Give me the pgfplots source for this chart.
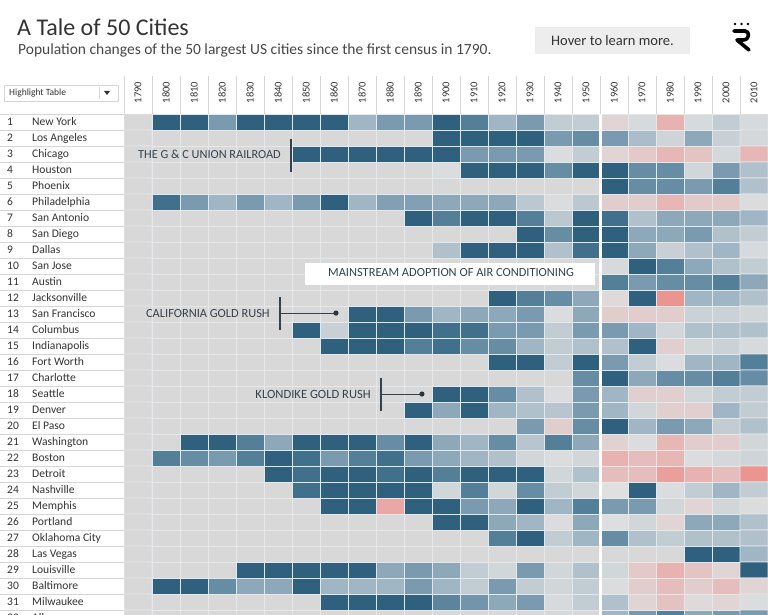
\documentclass[border=0pt]{standalone}
\usepackage{pgfplots}
\pgfplotsset{compat=1.18}
\usepackage{fontspec}
\setmainfont{Carlito}

\definecolor{txt}{RGB}{51,51,51}
\definecolor{note}{RGB}{52,66,78}
\definecolor{sep}{RGB}{214,214,214}
\definecolor{cellline}{RGB}{228,232,235}
\definecolor{nodata}{RGB}{216,216,216}

\begin{document}
\begin{tikzpicture}[x=1pt,y=1pt]
\useasboundingbox (0,0) rectangle (768,615);
\clip (0,0) rectangle (768,615);

% titles
\node[anchor=base west, inner sep=0, text=txt, font=\fontsize{24}{24}\selectfont] at (17,579) {A Tale of 50 Cities};
\node[anchor=base west, inner sep=0, text=txt!90, font=\fontsize{15.5}{15.5}\selectfont] at (18,560) {Population changes of the 50 largest US cities since the first census in 1790.};
\fill[black!7] (535,561) rectangle (690,588);
\node[text=txt, font=\fontsize{14.5}{14.5}\selectfont] at (612.5,574.5) {Hover to learn more.};
% logo
\fill[black] (735,591) circle (1.3) (741.5,591) circle (1.3) (748,591) circle (1.3);
\draw[black, line width=3.6pt, line cap=round, line join=round] (734,584) -- (745,584) .. controls (750,584) and (750,575) .. (743,575) -- (737,575) -- (749,565);

% dropdown
\draw[sep, fill=white] (4,514) rectangle (118,530);
\node[anchor=base west, inner sep=0, text=txt, font=\fontsize{9.5}{9.5}\selectfont] at (9,519) {Highlight Table};
\draw[sep] (99,516) -- (99,528);
\fill[txt] (104,524) -- (110,524) -- (107,520) -- cycle;

% header
\foreach \i in {0,...,22} {
  \pgfmathtruncatemacro\yr{1790+10*\i}
  \node[rotate=90, inner sep=0, text=txt, font=\fontsize{10.5}{10.5}\selectfont] at (138+28*\i,522.5) {\yr};
}
\foreach \i in {0,...,23} \draw[sep] (124+28*\i,539) -- (124+28*\i,501);
\draw[sep] (0,501) -- (124,501);

% row labels
\foreach \n/\c [count=\k from 0] in {1/New York,2/Los Angeles,3/Chicago,4/Houston,5/Phoenix,
  6/Philadelphia,7/San Antonio,8/San Diego,9/Dallas,10/San Jose,11/Austin,12/Jacksonville,
  13/San Francisco,14/Columbus,15/Indianapolis,16/Fort Worth,17/Charlotte,18/Seattle,19/Denver,
  20/El Paso,21/Washington,22/Boston,23/Detroit,24/Nashville,25/Memphis,26/Portland,
  27/Oklahoma City,28/Las Vegas,29/Louisville,30/Baltimore,31/Milwaukee,32/Albuquerque} {
  \node[anchor=base west, inner sep=0, text=txt, font=\fontsize{11.5}{11.5}\selectfont] at (7,489-16*\k) {\n};
  \node[anchor=base west, inner sep=0, text=txt, font=\fontsize{11.6}{11.6}\selectfont] at (32,489-16*\k) {\c};
  \draw[sep] (0,485-16*\k) -- (124,485-16*\k);
}

\begin{axis}[
  at={(124pt,0pt)}, anchor=south west,
  scale only axis, width=644pt, height=500.96pt,
  xmin=-0.5, xmax=22.5, ymin=-0.5, ymax=30.81,
  y dir=reverse,
  axis line style={draw=none}, ticks=none,
  axis background/.style={fill=nodata},
  colormap={tale}{[0.5pt]
    rgb255(0pt)=(216,216,216) rgb255(1pt)=(236,140,134) rgb255(3pt)=(232,178,176)
    rgb255(4.5pt)=(224,212,212) rgb255(5pt)=(224,224,224) rgb255(6pt)=(194,204,211)
    rgb255(7pt)=(160,182,196) rgb255(8pt)=(122,155,175) rgb255(9pt)=(84,127,153)
    rgb255(10pt)=(47,97,127)},
  point meta min=-5, point meta max=5,
]
% one line per city, 1790 ... 2010; -5 = not in the table that decade
\addplot[matrix plot*, mesh/cols=23, point meta=explicit,
  shader=faceted, faceted color=cellline, line width=0.9pt]
  table[header=false, row sep=\\, meta index=0,
    x expr={mod(\coordindex,23)}, y expr={floor((\coordindex+0.5)/23)}] {
-5\\5\\5\\3\\5\\5\\5\\5\\2\\3\\3\\5\\4\\2\\3\\1\\1\\-0.5\\0.3\\-2\\0.3\\1\\0.3\\
-5\\-5\\-5\\-5\\-5\\-5\\-5\\-5\\-5\\-5\\-5\\5\\5\\5\\5\\3\\3.5\\3\\1.7\\0.6\\2.5\\0.8\\0.4\\
-5\\-5\\-5\\-5\\-5\\-5\\5\\5\\5\\5\\5\\5\\3\\3\\3\\0.2\\1\\-0.5\\-1\\-1.8\\-1.2\\0.4\\-1.8\\
-5\\-5\\-5\\-5\\-5\\-5\\-5\\-5\\-5\\-5\\-5\\0.2\\5\\5\\5\\3.5\\5\\5\\3.5\\3.5\\0.5\\3\\1.5\\
-5\\-5\\-5\\-5\\-5\\-5\\-5\\-5\\-5\\-5\\-5\\-5\\-5\\-5\\-5\\-5\\-5\\5\\3.5\\3.5\\3\\4\\1.5\\
-5\\4.5\\3\\2\\3\\2\\3\\5\\2\\2.8\\2.8\\2.5\\2.5\\2.5\\1.2\\0.2\\1.2\\-0.8\\-0.8\\-1.8\\-1\\-1\\0.2\\
-5\\-5\\-5\\-5\\-5\\-5\\-5\\-5\\-5\\-5\\5\\4\\5\\5\\4\\1.2\\5\\4.5\\1.5\\2.5\\2.5\\2.5\\2\\
-5\\-5\\-5\\-5\\-5\\-5\\-5\\-5\\-5\\-5\\-5\\-5\\-5\\-5\\5\\3.5\\5\\5\\2.5\\2.5\\3\\1.5\\1\\
-5\\-5\\-5\\-5\\-5\\-5\\-5\\-5\\-5\\-5\\-5\\1.5\\5\\5\\5\\1.5\\4.5\\5\\2.5\\0.8\\1.5\\2\\0.3\\
-5\\-5\\-5\\-5\\-5\\-5\\-5\\-5\\-5\\-5\\-5\\-5\\-5\\-5\\-5\\-5\\-5\\0.3\\5\\4\\2.5\\1.5\\1\\
-5\\-5\\-5\\-5\\-5\\-5\\-5\\-5\\-5\\-5\\-5\\-5\\-5\\-5\\-5\\-5\\-5\\4\\3\\3.5\\3.5\\4\\2.5\\
-5\\-5\\-5\\-5\\-5\\-5\\-5\\-5\\-5\\-5\\-5\\-5\\-5\\5\\4\\3.5\\2.5\\-0.3\\5\\-3.5\\2\\2\\1.5\\
-5\\-5\\-5\\-5\\-5\\-5\\-5\\-5\\5\\5\\3\\2\\2.5\\2.5\\3\\0.2\\2.5\\-0.8\\-0.8\\-0.8\\0.7\\0.7\\0.5\\
-5\\-5\\-5\\-5\\-5\\-5\\5\\0.8\\5\\5\\5\\4.5\\4.5\\3\\3\\1\\3\\3\\2\\0.5\\1.5\\1.5\\1.5\\
-5\\-5\\-5\\-5\\-5\\-5\\-5\\5\\5\\5\\4\\4.5\\3.5\\3.5\\2\\1\\1.5\\1.5\\5\\-0.7\\0.5\\0.7\\0.3\\
-5\\-5\\-5\\-5\\-5\\-5\\-5\\-5\\-5\\-5\\-5\\-5\\-5\\5\\5\\1\\5\\3\\1\\0.2\\2\\2\\4\\
-5\\-5\\-5\\-5\\-5\\-5\\-5\\-5\\-5\\-5\\-5\\-5\\-5\\-5\\-5\\-5\\3.5\\5\\2.5\\3.5\\3.5\\4\\3.5\\
-5\\-5\\-5\\-5\\-5\\-5\\-5\\-5\\-5\\-5\\-5\\5\\5\\3.5\\1.5\\0.2\\3\\2\\-0.7\\-0.7\\0.5\\1\\1\\
-5\\-5\\-5\\-5\\-5\\-5\\-5\\-5\\-5\\-5\\5\\2.5\\5\\2\\1.5\\1.3\\3\\2\\0.5\\-0.7\\-0.7\\2\\1\\
-5\\-5\\-5\\-5\\-5\\-5\\-5\\-5\\-5\\-5\\-5\\-5\\-5\\-5\\3\\-0.8\\3.5\\5\\2\\3\\2.5\\1\\1.5\\
-5\\-5\\5\\5\\4\\2.5\\5\\5\\5\\3.5\\5\\2.5\\2\\3.5\\1.3\\4\\2.5\\-0.6\\0.2\\-1.8\\-0.8\\-0.8\\0.5\\
-5\\4\\3.5\\3\\4\\5\\4.5\\3\\4\\4.5\\3\\2.5\\2\\1.5\\0.5\\0.2\\0.5\\-2\\-1.5\\-1.8\\0.2\\0.4\\0.6\\
-5\\-5\\-5\\-5\\-5\\5\\4.5\\5\\5\\4.5\\5\\4\\5\\5\\5\\0.5\\1.5\\-1.5\\-1.5\\-3\\-2\\-1.5\\-3.5\\
-5\\-5\\-5\\-5\\-5\\-5\\4.5\\5\\5\\5\\5\\0.5\\4\\0.5\\3.5\\1\\0.5\\0\\5\\0.2\\1\\2\\1\\
-5\\-5\\-5\\-5\\-5\\-5\\-5\\5\\5\\-2.5\\5\\5\\3\\2.5\\5\\2\\4\\3\\3\\0.5\\-0.5\\0.5\\0.2\\
-5\\-5\\-5\\-5\\-5\\-5\\-5\\-5\\-5\\-5\\-5\\5\\5\\2.5\\2\\0.2\\2.5\\0.1\\0.5\\-0.5\\2.5\\2.5\\1.5\\
-5\\-5\\-5\\-5\\-5\\-5\\-5\\-5\\-5\\-5\\-5\\-5\\-5\\4\\5\\1\\2\\3.5\\1.5\\1\\1.5\\1.5\\1.5\\
-5\\-5\\-5\\-5\\-5\\-5\\-5\\-5\\-5\\-5\\-5\\-5\\-5\\-5\\-5\\-5\\-5\\-5\\-5\\-5\\5\\5\\2\\
-5\\-5\\-5\\-5\\5\\5\\5\\5\\5\\2.5\\3\\2.5\\1\\0.5\\3\\0.5\\1.5\\0.5\\-1\\-2\\-1.2\\-0.5\\5\\
-5\\5\\5\\3.5\\2.5\\2.5\\5\\2\\2\\2\\3\\2\\1\\3\\1\\0.5\\1\\0.2\\-0.8\\-1.5\\-0.8\\-1.5\\-0.5\\
-5\\-5\\-5\\-5\\-5\\-5\\-5\\5\\5\\5\\5\\3.8\\3.2\\2.5\\3\\0.3\\1\\1.5\\-0.5\\-1.3\\-0.3\\-0.5\\0.2\\
-5\\-5\\-5\\-5\\-5\\-5\\-5\\-5\\-5\\-5\\-5\\-5\\-5\\-5\\-5\\-5\\-5\\2\\3\\4\\2.5\\3\\3\\
};
% gap between 1950 and 1960
\draw[white, line width=3pt] (axis cs:16.5,-0.5) -- (axis cs:16.5,31);
% annotations
\draw[note, line width=1.3pt] (axis cs:5.46,1.06) -- (axis cs:5.46,3.1);
\node[anchor=east, inner sep=0, text=note, font=\fontsize{12.3}{12.3}\selectfont] at (axis cs:5.107,2) {THE G \& C UNION RAILROAD};
\fill[white] (axis cs:5.96,8.81) rectangle (axis cs:16.32,10.19);
\node[text=note, inner sep=0, font=\fontsize{12.4}{12.4}\selectfont] at (axis cs:11.18,9.4) {MAINSTREAM ADOPTION OF AIR CONDITIONING};
\draw[note, line width=1.3pt] (axis cs:5.07,10.94) -- (axis cs:5.07,13.0);
\draw[note, line width=1pt] (axis cs:5.07,11.94) -- (axis cs:7.07,11.94);
\fill[note!80!black] (axis cs:7.07,11.94) circle (2.6pt);
\node[anchor=east, inner sep=0, text=note, font=\fontsize{12.4}{12.4}\selectfont] at (axis cs:4.71,11.94) {CALIFORNIA GOLD RUSH};
\draw[note, line width=1.3pt] (axis cs:8.68,16.0) -- (axis cs:8.68,18.06);
\draw[note, line width=1pt] (axis cs:8.68,17) -- (axis cs:10.14,17);
\fill[note!80!black] (axis cs:10.14,17) circle (2.6pt);
\node[anchor=east, inner sep=0, text=note, font=\fontsize{12.6}{12.6}\selectfont] at (axis cs:8.32,17) {KLONDIKE GOLD RUSH};
\end{axis}
\end{tikzpicture}
\end{document}
